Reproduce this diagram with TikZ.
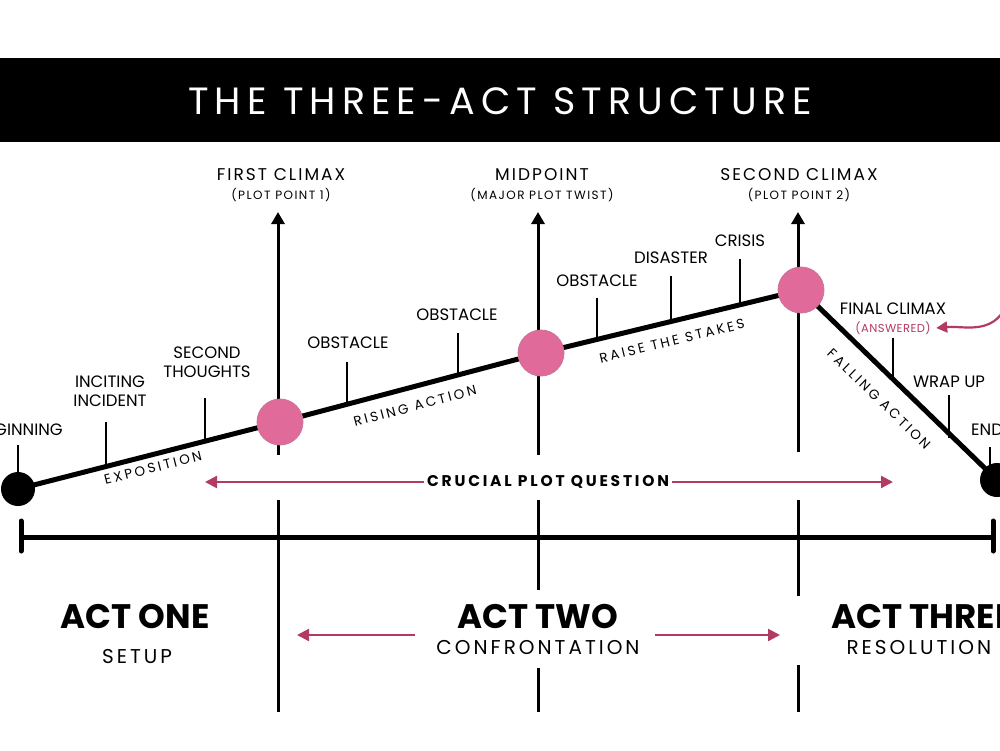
\documentclass[tikz,border=0pt]{standalone}
\usepackage{fontspec}
\setmainfont{Poppins}
\usetikzlibrary{arrows.meta}
\definecolor{pinkf}{HTML}{E06A9A}
\definecolor{pinkd}{HTML}{B23B66}
\begin{document}
\begin{tikzpicture}[x=1pt,y=-1pt,
  lbl/.style={font=\fontsize{16.5}{19}\selectfont, align=center, inner sep=1pt},
  sub/.style={font=\fontsize{12}{14}\selectfont\addfontfeature{LetterSpace=12}},
  lineLbl/.style={font=\fontsize{13.5}{15}\selectfont\addfontfeature{LetterSpace=20}},
  tick/.style={line width=1.6pt},
  vert/.style={line width=3pt},
  plot/.style={line width=5pt},
  parr/.style={line width=2.2pt, pinkd, -{Triangle[length=12pt,width=12pt]}},
  pdot/.style={circle, fill=pinkf, draw=pinkd!70, line width=0.8pt, minimum size=46pt, inner sep=0},
  bdot/.style={circle, fill=black, minimum size=34pt, inner sep=0}]
\useasboundingbox (0,0) rectangle (1000,750);
\clip (0,0) rectangle (1000,750);
\fill[white] (0,0) rectangle (1000,750);
\fill[black] (0,58) rectangle (1000,142);
\node[text=white, font=\fontsize{38}{42}\selectfont\addfontfeature{LetterSpace=16}] (title) at (500,101) {THE THREE-ACT STRUCTURE};
% vertical arrows
\coordinate (v1t) at (278,212); \coordinate (v1b) at (278,455);
\coordinate (v2t) at (538,212); \coordinate (v2b) at (538,455);
\coordinate (v3t) at (798,212); \coordinate (v3b) at (798,452);
\foreach \a/\b in {v1b/v1t,v2b/v2t,v3b/v3t} \draw[vert,-{Triangle[length=12pt,width=13pt]}] (\a) -- (\b);
% timeline
\coordinate (tl) at (21,537); \coordinate (tr) at (993,537);
\draw[line width=5pt] (tl) -- (tr);
\draw[line width=5pt, line cap=round] (21,521) -- (21,551);
\draw[line width=5pt, line cap=round] (993,521) -- (993,551);
\draw[vert] (278,500) -- (278,712);
\draw[vert] (538,500) -- (538,590); \draw[vert] (538,668) -- (538,712);
\draw[vert] (798,500) -- (798,596); \draw[vert] (798,665) -- (798,712);
% ticks
\foreach \x/\a/\b in {18/445/478,106/422/465,205/398/440,347/362/405,458/333/375,597/298/340,671/276/320,740/259/303,893/338/382,949/395/438,990/447/470}
  \draw[tick] (\x,\a) -- (\x,\b);
% plot line
\coordinate (p0) at (18,489); \coordinate (p1) at (280,422); \coordinate (p2) at (541,353);
\coordinate (p3) at (801,290); \coordinate (p4) at (997,480);
\draw[plot] (p0) -- (p1) -- (p2) -- (p3) -- (p4);
\node[bdot] (n0) at (p0) {}; \node[bdot] (n4) at (p4) {};
\node[pdot] (n1) at (p1) {}; \node[pdot] (n2) at (p2) {}; \node[pdot] (n3) at (p3) {};
% along-line labels
\node[lineLbl, rotate=14.3] (exp) at (153,468) {EXPOSITION};
\node[lineLbl, rotate=14.8] (ris) at (415,406) {RISING ACTION};
\node[lineLbl, rotate=13.6] (rts) at (672,341) {RAISE THE STAKES};
\node[lineLbl, rotate=-44] (fal) at (879,399) {FALLING ACTION};
% top labels
\node[lbl, font=\fontsize{17}{19}\selectfont\addfontfeature{LetterSpace=12}] (fc) at (281,175) {FIRST CLIMAX};
\node[sub] (fcs) at (281,195) {(PLOT POINT 1)};
\node[lbl, font=\fontsize{17}{19}\selectfont\addfontfeature{LetterSpace=12}] (mp) at (542,175) {MIDPOINT};
\node[sub] (mps) at (542,195) {(MAJOR PLOT TWIST)};
\node[lbl, font=\fontsize{17}{19}\selectfont\addfontfeature{LetterSpace=12}] (sc) at (799,175) {SECOND CLIMAX};
\node[sub] (scs) at (799,195) {(PLOT POINT 2)};
% event labels
\node[lbl, anchor=east] (beg) at (64,430) {BEGINNING};
\node[lbl] (inc) at (110,391) {INCITING\\INCIDENT};
\node[lbl] (sec) at (207,362) {SECOND\\THOUGHTS};
\node[lbl] (ob1) at (348,343) {OBSTACLE};
\node[lbl] (ob2) at (457,315) {OBSTACLE};
\node[lbl] (ob3) at (597,281) {OBSTACLE};
\node[lbl] (dis) at (671,258) {DISASTER};
\node[lbl] (cri) at (740,241) {CRISIS};
\node[lbl] (fcl) at (893,309) {FINAL CLIMAX};
\node[font=\fontsize{11.5}{13}\selectfont\addfontfeature{LetterSpace=4}, text=pinkd] (ans) at (893,328) {(ANSWERED)};
\node[lbl] (wrp) at (949,382) {WRAP UP};
\node[lbl, anchor=west] (end) at (970,430) {END};
% curved arrow
\coordinate (cs) at (1003,312);
\draw[line width=2.2pt, pinkd, -{Triangle[length=11pt,width=11pt]}] (cs) to[out=235,in=5] ([xshift=2pt]ans.east);
% crucial plot question
\node[font=\fontsize{15.5}{17}\selectfont\bfseries\addfontfeature{LetterSpace=18}] (cpq) at (548,482) {CRUCIAL PLOT QUESTION};
\coordinate (cl) at (205,482); \coordinate (cr) at (893,482);
\draw[parr] (cpq.west) -- (cl);
\draw[parr] (cpq.east) -- (cr);
% acts
\node[font=\fontsize{34}{38}\selectfont\bfseries] (a1) at (135,617) {ACT ONE};
\node[font=\fontsize{20}{22}\selectfont\addfontfeature{LetterSpace=15}] (a1s) at (137,656) {SETUP};
\node[font=\fontsize{34}{38}\selectfont\bfseries] (a2) at (538,617) {ACT TWO};
\node[font=\fontsize{20}{22}\selectfont\addfontfeature{LetterSpace=15}] (a2s) at (538,647) {CONFRONTATION};
\node[font=\fontsize{34}{38}\selectfont\bfseries, anchor=west] (a3) at (828,617) {ACT THREE};
\node[font=\fontsize{20}{22}\selectfont\addfontfeature{LetterSpace=15}, anchor=west] (a3s) at (843,647) {RESOLUTION};
\coordinate (al) at (297,635); \coordinate (ar) at (780,635);
\draw[parr] (415,635) -- (al);
\draw[parr] (655,635) -- (ar);
\end{tikzpicture}
\end{document}
